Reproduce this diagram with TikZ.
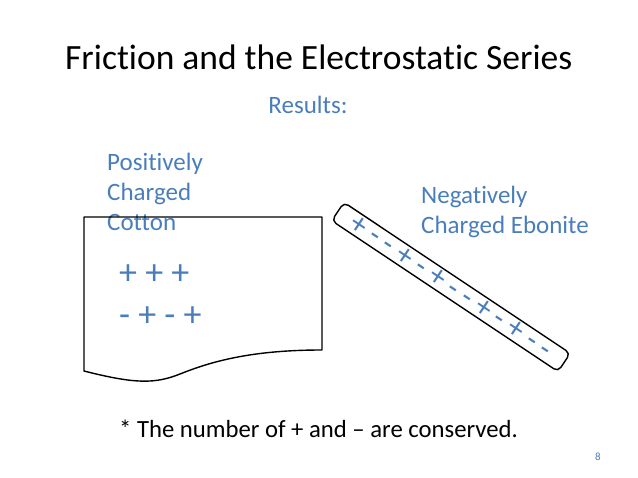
\documentclass[tikz,border=0pt]{standalone}
\usepackage{fontspec}
\setmainfont{Carlito}[RawFeature=-liga]
\definecolor{accent}{HTML}{4A7EBB}
\begin{document}
\begin{tikzpicture}[x=1pt,y=-1pt,
  lbl/.style={text=accent,font=\fontsize{25}{30}\selectfont,inner sep=0pt},
  charge/.style={text=accent,font=\fontsize{36}{40}\selectfont,inner sep=0pt},
  outline/.style={draw=black,line width=1.4pt}]
\useasboundingbox (0,0) rectangle (638,478);
\node[anchor=base west,inner sep=0pt,font=\fontsize{35.5}{40}\selectfont] (title) at (65,70) {Friction and the Electrostatic Series};
\node[lbl,anchor=base] (res) at (308,114) {Results:};
\node[lbl,anchor=base west,align=left] (cotlbl) at (107,231) {Positively\\Charged\\Cotton};
\node[lbl,anchor=base west,align=left] (eblbl) at (421,234) {Negatively\\Charged Ebonite};
% cotton cloth
\draw[outline,line join=round] (84,217) -- (322,217) -- (322,350)
  .. controls (250,350) and (210,362) .. (180,374)
  .. controls (155,384) and (135,384) .. (84,371) -- cycle;
\node[charge,anchor=base west] (c1) at (119,285) {+ + +};
\node[charge,anchor=base west] (c2) at (119,327) {- + - +};
% ebonite rod
\begin{scope}[shift={(451,287)},rotate=-33.7]
\draw[outline,rounded corners=5pt] (-136,-11) rectangle (136,11);
\node[charge,anchor=center,transform shape,font=\fontsize{31}{36}\selectfont] (rod) at (0,0) {+ - - + - + - - + - + - -};
\end{scope}
\node[anchor=base west,inner sep=0pt,font=\fontsize{24.7}{30}\selectfont] (note) at (119,438) {* The number of + and -- are conserved.};
\node[anchor=base,inner sep=0pt,text=accent,font=\fontsize{11}{13}\selectfont] (pg) at (598,461) {8};
\end{tikzpicture}
\end{document}
